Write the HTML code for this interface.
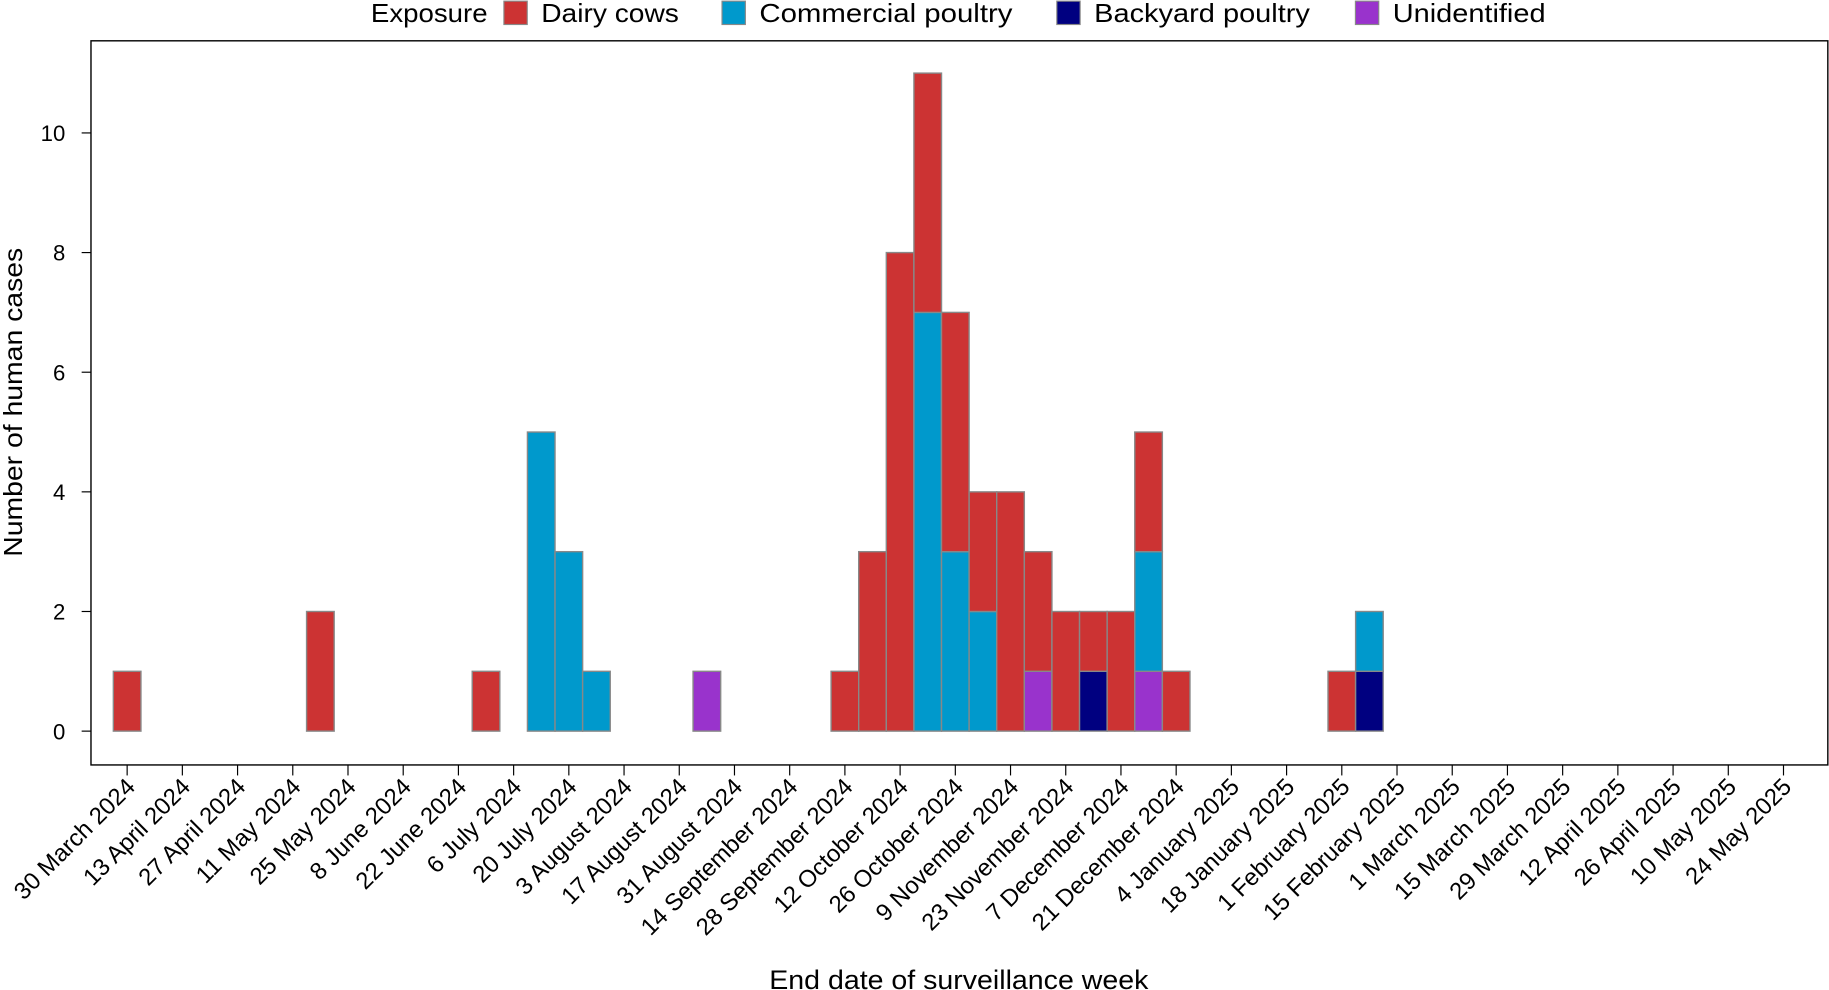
<!DOCTYPE html>
<html><head><meta charset="utf-8"><style>
html,body{margin:0;padding:0;background:#fff;}
svg{display:block;font-family:"Liberation Sans",sans-serif;}
</style></head><body>
<svg id="chart" width="1829" height="990" viewBox="0 0 1568 849" preserveAspectRatio="none" xmlns="http://www.w3.org/2000/svg"></svg>
<script>
const tickLabels=["30 March 2024","13 April 2024","27 April 2024","11 May 2024","25 May 2024","8 June 2024","22 June 2024","6 July 2024","20 July 2024","3 August 2024","17 August 2024","31 August 2024","14 September 2024","28 September 2024","12 October 2024","26 October 2024","9 November 2024","23 November 2024","7 December 2024","21 December 2024","4 January 2025","18 January 2025","1 February 2025","15 February 2025","1 March 2025","15 March 2025","29 March 2025","12 April 2025","26 April 2025","10 May 2025","24 May 2025"];
const weekIndex=[0,7,13,15,16,17,21,26,27,28,29,30,31,32,33,34,35,36,37,38,44,45];
const unidentified=[0,0,0,0,0,0,1,0,0,0,0,0,0,0,1,0,0,0,1,0,0,0];
const backyard=[0,0,0,0,0,0,0,0,0,0,0,0,0,0,0,0,1,0,0,0,0,1];
const commercial=[0,0,0,5,3,1,0,0,0,0,7,3,2,0,0,0,0,0,2,0,0,1];
const dairy=[1,2,1,0,0,0,0,1,3,8,4,4,2,4,2,2,1,2,2,1,1,0];
const yTicks=[0,2,4,6,8,10];

const NS="http://www.w3.org/2000/svg";
const svg=document.getElementById('chart');
function el(t,a,txt){const e=document.createElementNS(NS,t);for(const k in a)e.setAttribute(k,a[k]);if(txt!==undefined)e.textContent=txt;svg.appendChild(e);return e;}
const x0=109,weekW=47.333/2;
const xs=w=>x0+w*weekW;
const ys=v=>627-v*51.3;

let f=el('rect',{x:78,y:35,width:1489,height:621,fill:'none',stroke:'#000','stroke-width':1.2});



yTicks.forEach(v=>{
  let l=el('line',{x1:70,x2:78,y1:ys(v),y2:ys(v),stroke:'#000'});
  
  
  let t=el('text',{x:56,y:ys(v)+7,'text-anchor':'end','font-size':19},String(v));
  
  
});
tickLabels.forEach((s,i)=>{
  const x=xs(i*2);
  let l=el('line',{x1:x,x2:x,y1:656,y2:665,stroke:'#000'});
  
  
  let t=el('text',{x:x+8,y:676,'text-anchor':'end','font-size':20.5,transform:`rotate(-45 ${x+8} 676)`},s);
  
  
});
const series=[[unidentified,'#9933cc','unidentified'],[backyard,'#000080','backyard-poultry'],[commercial,'#0099cc','commercial-poultry'],[dairy,'#cc3333','dairy-cows']];
weekIndex.forEach((w,i)=>{
  let base=0;
  series.forEach(([arr,c,n])=>{
    const v=arr[i]; if(!v)return;
    let r=el('rect',{x:xs(w)-weekW/2,y:ys(base+v),width:weekW,height:ys(base)-ys(base+v),fill:c,stroke:'#888','stroke-width':1.2});
    
    
    base+=v;
  });
});
let yt=el('text',{x:0,y:0,'text-anchor':'middle','font-size':22,textLength:265,lengthAdjust:'spacingAndGlyphs',transform:'translate(19 345) rotate(-90)'},'Number of human cases');


let xt=el('text',{x:822,y:848,'text-anchor':'middle','font-size':23,textLength:325,lengthAdjust:'spacingAndGlyphs'},'End date of surveillance week');


let lt=el('text',{x:318,y:19,'font-size':22,textLength:100,lengthAdjust:'spacingAndGlyphs'},'Exposure');


const legend=[[432,'Dairy cows','#cc3333',118],[619,'Commercial poultry','#0099cc',217],[906,'Backyard poultry','#000080',185],[1162,'Unidentified','#9933cc',131]];
legend.forEach(([x,s,c,w])=>{
  let r=el('rect',{x:x,y:1,width:20,height:20,fill:c,stroke:'#888'});
  
  
  let t=el('text',{x:x+32,y:19,'font-size':22,textLength:w,lengthAdjust:'spacingAndGlyphs'},s);
  
  
});
</script>
</body></html>
